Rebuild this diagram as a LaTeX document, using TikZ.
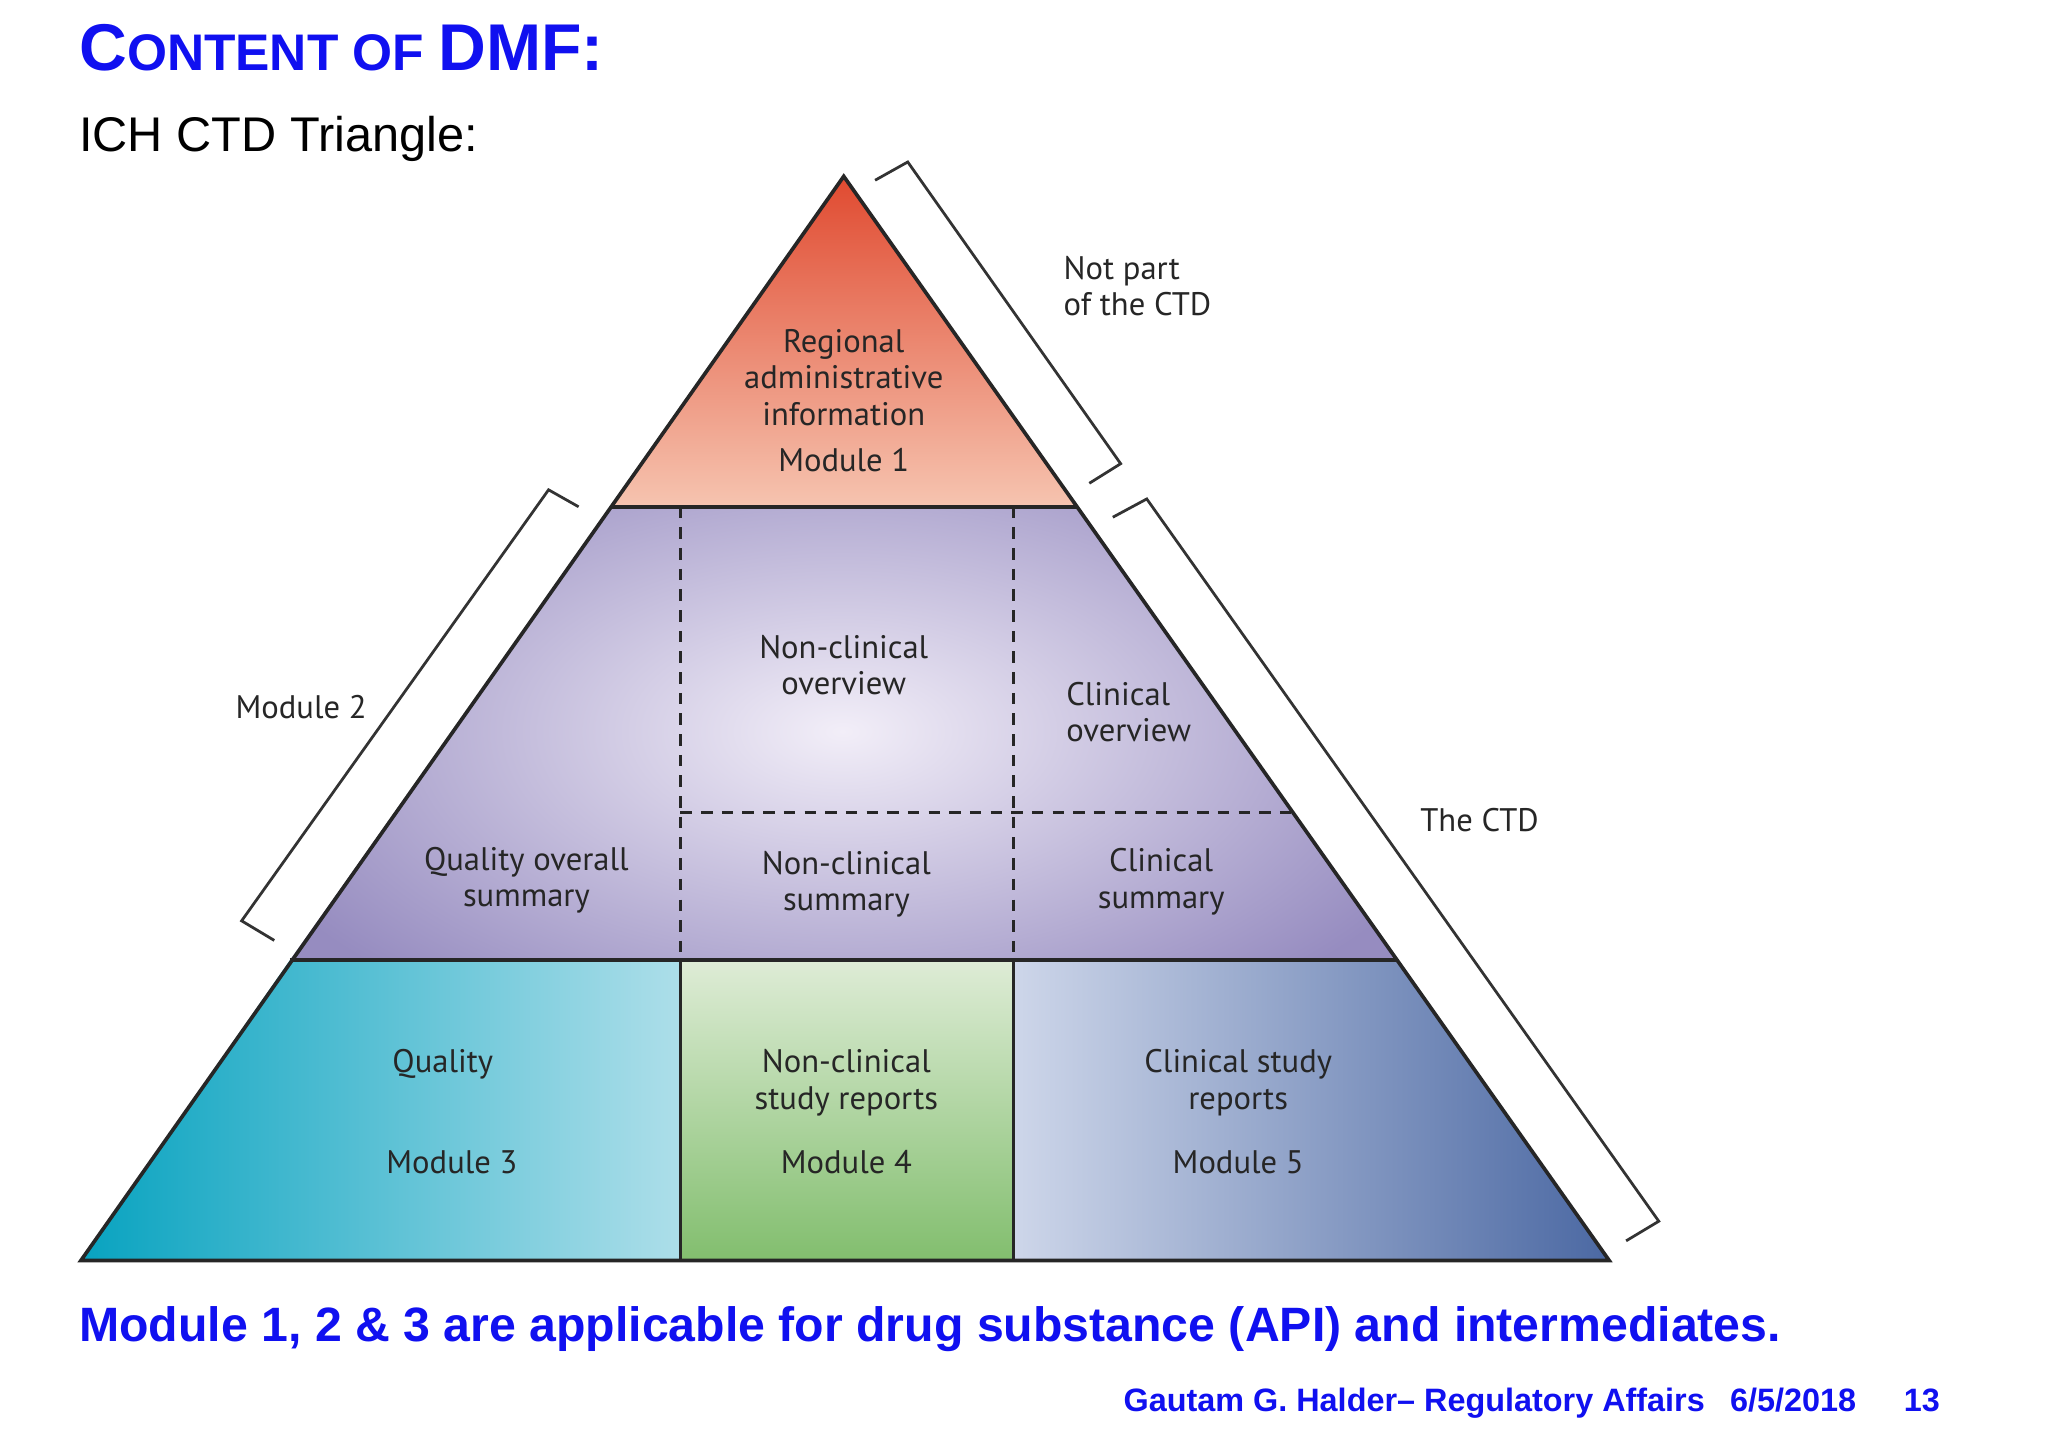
\documentclass[tikz,border=0pt]{standalone}
\usepackage{fontspec}
\setmainfont{Liberation Sans}
\newfontfamily\lbl{PT Sans}
\definecolor{ttl}{HTML}{1010F0}
\usetikzlibrary{calc}
\begin{document}
\begin{tikzpicture}[x=0.01cm,y=-0.01cm,
  lab/.style={font=\lbl\fontsize{7.1}{7.9}\selectfont,align=center,text=black!85},
  brk/.style={draw=black!80,line width=0.6pt},
  edge/.style={draw=black!85,line width=0.8pt},
  dsh/.style={draw=black!85,line width=0.6pt,dash pattern=on 2.5pt off 2pt}]
\useasboundingbox (0,0) rectangle (1568,1108);
% key points
\coordinate (A) at (646,135);
\coordinate (BL) at (62,965);
\coordinate (BR) at (1232,965);
\coordinate (L1) at (468,388); \coordinate (R1) at (824,388);
\coordinate (L2) at (222,735); \coordinate (R2) at (1070,735);
% fills
\begin{scope}\clip (A)--(R1)--(L1)--cycle;
\shade[top color={rgb,255:red,224;green,74;blue,48}, bottom color={rgb,255:red,246;green,196;blue,176}] (468,135) rectangle (824,388);
\end{scope}
\begin{scope}\clip (L1)--(R1)--(R2)--(L2)--cycle;
\shade[inner color={rgb,255:red,242;green,238;blue,248}, outer color={rgb,255:red,150;green,140;blue,192}] (150,300) rectangle (1140,820);
\end{scope}
\begin{scope}\clip (L2)--(521,735)--(521,965)--(BL)--cycle;
\shade[shading angle=-40,right color={rgb,255:red,180;green,225;blue,235},left color={rgb,255:red,0;green,160;blue,190}] (40,700) rectangle (540,1000);
\end{scope}
\shade[top color={rgb,255:red,222;green,236;blue,214},bottom color={rgb,255:red,130;green,190;blue,110}] (521,735) rectangle (776,965);
\begin{scope}\clip (776,735)--(R2)--(BR)--(776,965)--cycle;
\shade[shading angle=40,right color={rgb,255:red,70;green,100;blue,160},left color={rgb,255:red,210;green,218;blue,236}] (760,700) rectangle (1250,1000);
\end{scope}
% outlines
\draw[edge] (A)--(BR)--(BL)--cycle;
\draw[edge] (L1)--(R1);
\draw[edge] (L2)--(R2);
\draw[edge] (521,735)--(521,965);
\draw[edge] (776,735)--(776,965);
\draw[dsh] (521,388)--(521,735);
\draw[dsh] (776,388)--(776,735);
\draw[dsh] (521,622)--(990,622);
% brackets
\draw[brk] (670,138)--(695,124)--(858,355)--(834,370);
\draw[brk] (852,396)--(878,382)--(1270,935)--(1245,950);
\draw[brk] (443,388)--(420,375)--(185,705)--(210,720);
% labels
\node[lab] (m1) at (646,289) {Regional\\administrative\\information};
\node[lab] (m1b) at (646,352) {Module 1};
\node[lab,align=left,anchor=west] (np) at (802,219) {Not part\\of the CTD};
\node[lab,anchor=west] (m2) at (168,541) {Module 2};
\node[lab,anchor=west] (ctd) at (1075,628) {The CTD};
\node[lab] (nco) at (646,509) {Non-clinical\\overview};
\node[lab,align=left,anchor=west] (co) at (804,545) {Clinical\\overview};
\node[lab] (qos) at (403,674) {Quality overall\\summary};
\node[lab] (ncs) at (648,677) {Non-clinical\\summary};
\node[lab] (cs) at (889,675) {Clinical\\summary};
\node[lab] (q) at (339,815) {Quality};
\node[lab] (m3) at (346,890) {Module 3};
\node[lab] (ncr) at (648,829) {Non-clinical\\study reports};
\node[lab] (m4) at (648,890) {Module 4};
\node[lab] (csr) at (948,829) {Clinical study\\reports};
\node[lab] (m5) at (948,890) {Module 5};
% texts
\node[anchor=base west,text=ttl,font=\bfseries,inner sep=0] (t) at (60,54) {\fontsize{14.4}{17}\selectfont C\fontsize{11.2}{13}\selectfont ONTENT OF \fontsize{14.4}{17}\selectfont DMF:};
\node[anchor=base west,inner sep=0,font=\fontsize{10.6}{13}\selectfont] (st) at (60,116) {ICH CTD Triangle:};
\node[anchor=base west,inner sep=0,text=ttl,font=\bfseries\fontsize{10.5}{13}\selectfont] (b) at (60,1027) {Module 1, 2 \& 3 are applicable for drug substance (API) and intermediates.};
\node[anchor=base east,inner sep=0,text=ttl,font=\bfseries\fontsize{7.05}{9}\selectfont] (f) at (1486,1081) {Gautam G. Halder-- Regulatory Affairs\hspace{0.5em} 6/5/2018\hspace{1.2em} 13};
\end{tikzpicture}
\end{document}
